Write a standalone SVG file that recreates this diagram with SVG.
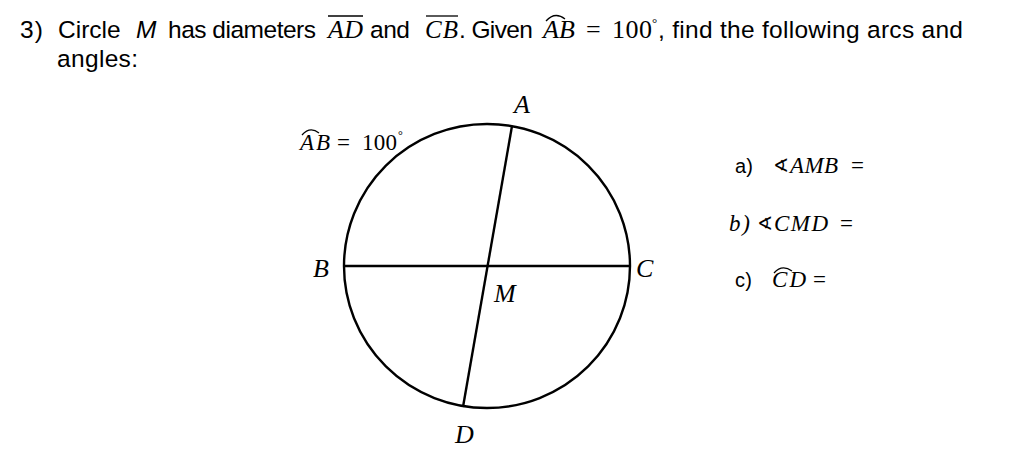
<svg xmlns="http://www.w3.org/2000/svg" width="1024" height="474" viewBox="0 0 1024 474">
<style>
.s{font-family:"Liberation Sans",Arial,sans-serif;font-size:24.5px;fill:#000}
.m{font-family:"Liberation Serif","Times New Roman",serif;font-style:italic;fill:#000}
.r{font-family:"Liberation Serif","Times New Roman",serif;fill:#000}
.ln{stroke:#000;stroke-width:2.4;fill:none}
.hat{stroke:#000;stroke-width:1.3;fill:none}
.ang{font-family:"DejaVu Sans",sans-serif;font-size:19px;fill:#000}
</style>
<rect width="1024" height="474" fill="#fff"/>
<g id="title">
<text class="s" x="20" y="38" textLength="23">3)</text>
<text class="s" x="58" y="38">Circle</text>
<text class="s" x="136" y="38" font-style="italic" textLength="21">M</text>
<text class="s" x="168" y="38" textLength="148">has diameters</text>
<text class="m" x="328" y="38" font-size="26" textLength="35">AD</text>
<line class="hat" x1="328" y1="16" x2="363" y2="16"/>
<text class="s" x="370" y="38" textLength="40">and</text>
<text class="m" x="425" y="38" font-size="25" textLength="33">CB</text>
<line class="hat" x1="426" y1="16" x2="458" y2="16"/>
<text class="s" x="459" y="38" textLength="74">. Given</text>
<text class="m" x="543" y="38" font-size="26" textLength="32">AB</text>
<path class="hat" d="M546,21 Q555,11 565,19"/>
<text class="r" x="586" y="38" font-size="26" textLength="20">=</text>
<text class="r" x="612" y="38" font-size="26" textLength="40">100</text>
<text class="r" x="652" y="27" font-size="13">°</text>
<text class="s" x="658" y="38" textLength="305">, find the following arcs and</text>
<text class="s" x="57" y="67" textLength="81">angles:</text>
</g>
<g id="circle">
<ellipse class="ln" cx="487" cy="266" rx="143" ry="142"/>
</g>
<g id="connectors">
<line class="ln" x1="512" y1="126" x2="463" y2="407"/>
<line class="ln" x1="344" y1="266" x2="630" y2="266"/>
</g>
<g id="labels">
<text class="m" x="514" y="113" font-size="26">A</text>
<text class="m" x="313" y="277" font-size="26">B</text>
<text class="m" x="636" y="277" font-size="26">C</text>
<text class="m" x="494" y="302" font-size="26">M</text>
<text class="m" x="455" y="443" font-size="26">D</text>
</g>
<g id="arc-label">
<text class="m" x="300" y="150" font-size="23" textLength="30">AB</text>
<path class="hat" d="M302,135 Q310,126 319,133"/>
<text class="r" x="337" y="150" font-size="23" textLength="16">=</text>
<text class="r" x="362" y="150" font-size="23" textLength="35">100</text>
<text class="r" x="398" y="139" font-size="12">°</text>
</g>
<g id="questions">
<text x="735" y="173" font-family="Liberation Sans,Arial,sans-serif" font-size="20" textLength="18">a)</text>
<text class="ang" x="773" y="172" textLength="14">∢</text>
<text class="m" x="790" y="173" font-size="23" textLength="48">AMB</text>
<text class="r" x="851" y="173" font-size="23" textLength="17">=</text>
<text class="m" x="729" y="231" font-size="23" textLength="21">b)</text>
<text class="ang" x="757" y="230" textLength="14">∢</text>
<text class="m" x="774" y="231" font-size="23" textLength="54">CMD</text>
<text class="r" x="840" y="231" font-size="23" textLength="17">=</text>
<text x="735" y="287" font-family="Liberation Sans,Arial,sans-serif" font-size="20" textLength="17">c)</text>
<text class="m" x="772" y="287" font-size="23" textLength="34">CD</text>
<path class="hat" d="M774,273 Q782,264 792,271"/>
<text class="r" x="813" y="287" font-size="23" textLength="16">=</text>
</g>
</svg>
